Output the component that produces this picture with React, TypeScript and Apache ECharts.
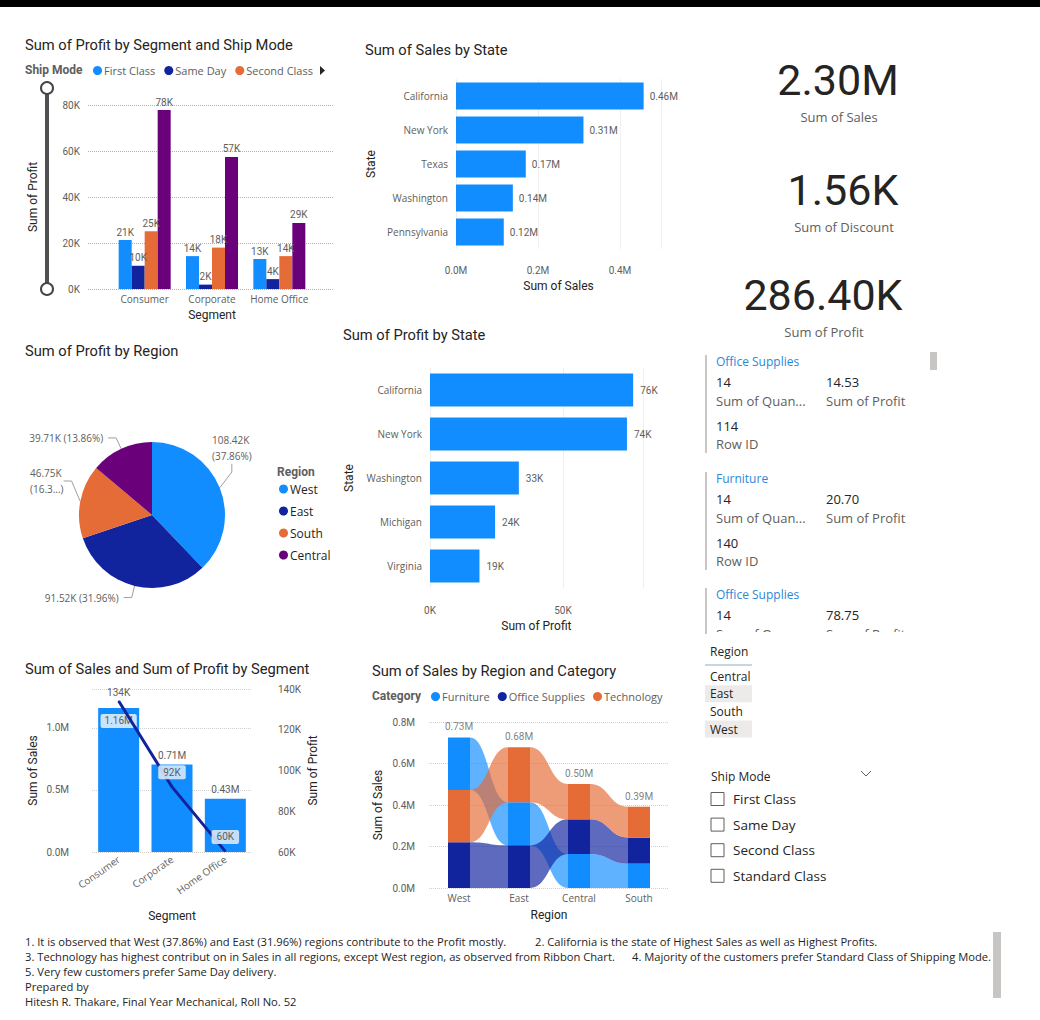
import React, { useEffect, useRef } from 'react';
import * as echarts from 'echarts';

// ---------- data ----------
const SEGMENTS = ['Consumer', 'Corporate', 'Home Office'];
const SHIP_MODES = ['First Class', 'Same Day', 'Second Class', 'Standard Class'];
const PROFIT_FIRST_CLASS = [21300, 14300, 13000];
const PROFIT_SAME_DAY = [10100, 1900, 4300];
const PROFIT_SECOND_CLASS = [25100, 18000, 14300];
const PROFIT_STANDARD_CLASS = [77800, 57400, 28700];

const SALES_STATES = ['California', 'New York', 'Texas', 'Washington', 'Pennsylvania'];
const SALES_BY_STATE = [457688, 310876, 170188, 138641, 116512];

const PROFIT_STATES = ['California', 'New York', 'Washington', 'Michigan', 'Virginia'];
const PROFIT_BY_STATE = [76381, 74039, 33403, 24463, 18598];

const REGIONS = ['West', 'East', 'South', 'Central'];
const PROFIT_BY_REGION = [108418, 91523, 46749, 39706];

const SEGMENT_SALES = [1161401, 706146, 429653];
const SEGMENT_PROFIT = [134119, 91979, 60299];

const RIBBON_REGIONS = ['West', 'East', 'Central', 'South'];
const CATEGORIES = ['Furniture', 'Office Supplies', 'Technology'];
const SALES_FURNITURE = [252613, 208291, 163797, 117299];
const SALES_OFFICE = [220853, 205516, 167026, 125651];
const SALES_TECH = [251992, 264974, 170416, 148772];

const KPI_VALUES = ['2.30M', '1.56K', '286.40K'];
const KPI_LABELS = ['Sum of Sales', 'Sum of Discount', 'Sum of Profit'];

const CARD_CATEGORY = ['Office Supplies', 'Furniture', 'Office Supplies'];
const CARD_QTY = ['14', '14', '14'];
const CARD_PROFIT = ['14.53', '20.70', '78.75'];
const CARD_ROWID = ['114', '140'];

const SLICER_REGIONS = ['Central', 'East', 'South', 'West'];
const SLICER_SELECTED = [false, true, false, true];

const NOTES_LEFT = [
  '1. It is observed that West (37.86%) and East (31.96%) regions contribute to the Profit mostly.',
  '3. Technology has highest contribut on in Sales in all regions, except West region, as observed from Ribbon Chart.',
  '5. Very few customers prefer Same Day delivery.',
  'Prepared by',
  'Hitesh R. Thakare, Final Year Mechanical, Roll No. 52',
];
const NOTES_RIGHT = [
  '2. California is the state of Highest Sales as well as Highest Profits.',
  '4. Majority of the customers prefer Standard Class of Shipping Mode.',
];

// ---------- styles ----------
const TXT = '#252423';
const GRAY = '#605E5C';
const GRID_LINE = '#B3B0AD';
const DIN = 'Roboto, "DejaVu Sans", sans-serif';
const SEGOE = '"Open Sans", Lato, sans-serif';
const C_BLUE = '#118DFF';
const C_NAVY = '#12239E';
const C_ORANGE = '#E66C37';
const C_PURPLE = '#6B007B';
const TITLE_SIZE = 14.7;

const kFmt = (v: number) => Math.round(v / 1000) + 'K';
const m1 = (v: number) => (v / 1e6).toFixed(1) + 'M';
const m2 = (v: number) => (v / 1e6).toFixed(2) + 'M';

type TOpts = { size?: number; fill?: string; weight?: string; family?: string; align?: string; z?: number };
const txt = (x: number, y: number, text: string, o: TOpts = {}) => ({
  type: 'text',
  x,
  y,
  z: o.z ?? 10,
  silent: true,
  style: {
    text,
    fill: o.fill ?? TXT,
    font: `${o.weight ?? 'normal'} ${o.size ?? 12}px ${o.family ?? SEGOE}`,
    textAlign: o.align ?? 'left',
    textVerticalAlign: 'middle',
    align: o.align ?? 'left',
    verticalAlign: 'middle',
  },
});
const rect = (x: number, y: number, w: number, h: number, style: any, z = 5) => ({
  type: 'rect', z, silent: true, shape: { x, y, width: w, height: h }, style,
});

const axisName = { color: TXT, fontSize: 12, fontFamily: DIN };
const noLine = { show: false };

function buildRibbonData() {
  const series = [SALES_FURNITURE, SALES_OFFICE, SALES_TECH];
  const stacks = RIBBON_REGIONS.map((_, i) => {
    const items = series.map((vals, k) => ({ k, v: vals[i] })).sort((a, b) => a.v - b.v);
    const res: number[][] = [];
    let acc = 0;
    items.forEach(({ k, v }) => {
      res[k] = [acc, acc + v];
      acc += v;
    });
    return res;
  });
  return series.map((_, k) =>
    RIBBON_REGIONS.map((__, i) => {
      const s = stacks[i][k];
      const n = stacks[i + 1] ? stacks[i + 1][k] : s;
      return [i, s[0], s[1], n[0], n[1]];
    })
  );
}

function ribbonSeries(name: string, color: string, data: number[][]) {
  return {
    type: 'custom',
    name,
    xAxisIndex: 5,
    yAxisIndex: 6,
    itemStyle: { color },
    encode: { x: 0, y: [1, 2] },
    data,
    renderItem: (params: any, api: any) => {
      const i = api.value(0);
      const b = api.value(1);
      const t = api.value(2);
      const pTop = api.coord([i, t]);
      const pBot = api.coord([i, b]);
      const half = 11;
      const children: any[] = [];
      if (i < RIBBON_REGIONS.length - 1) {
        const qTop = api.coord([i + 1, api.value(4)]);
        const qBot = api.coord([i + 1, api.value(3)]);
        const x0 = pTop[0] + half;
        const x1 = qTop[0] - half;
        const xm = (x0 + x1) / 2;
        children.push({
          type: 'path',
          shape: {
            pathData: `M${x0},${pTop[1]} C${xm},${pTop[1]} ${xm},${qTop[1]} ${x1},${qTop[1]} L${x1},${qBot[1]} C${xm},${qBot[1]} ${xm},${pBot[1]} ${x0},${pBot[1]} Z`,
          },
          style: { fill: color, opacity: 0.68 },
        });
      }
      children.push({
        type: 'rect',
        shape: { x: pTop[0] - half, y: pTop[1], width: half * 2, height: pBot[1] - pTop[1] },
        style: { fill: color },
      });
      return { type: 'group', children };
    },
  };
}

function buildGraphics() {
  const g: any[] = [];
  g.push(rect(0, 0, 1040, 7, { fill: '#000' }));
  // titles
  g.push(txt(25, 45, 'Sum of Profit by Segment and Ship Mode', { size: TITLE_SIZE, family: DIN }));
  g.push(txt(365, 50, 'Sum of Sales by State', { size: TITLE_SIZE, family: DIN }));
  g.push(txt(25, 351, 'Sum of Profit by Region', { size: TITLE_SIZE, family: DIN }));
  g.push(txt(343, 335, 'Sum of Profit by State', { size: TITLE_SIZE, family: DIN }));
  g.push(txt(25, 669, 'Sum of Sales and Sum of Profit by Segment', { size: TITLE_SIZE, family: DIN }));
  g.push(txt(372, 671, 'Sum of Sales by Region and Category', { size: TITLE_SIZE, family: DIN }));
  // legend titles
  g.push(txt(25, 70, 'Ship Mode', { size: 12, weight: 'bold', family: DIN, fill: GRAY }));
  g.push(txt(372, 696, 'Category', { size: 12, weight: 'bold', family: DIN, fill: GRAY }));
  g.push(txt(277, 472, 'Region', { size: 12, weight: 'bold', family: DIN, fill: GRAY }));
  g.push({ type: 'polygon', silent: true, shape: { points: [[320, 66], [325, 70.5], [320, 75]] }, style: { fill: TXT } });
  // slider
  g.push({ type: 'line', silent: true, shape: { x1: 47, y1: 94, x2: 47, y2: 283 }, style: { stroke: '#505050', lineWidth: 4 } });
  g.push({ type: 'circle', silent: true, z: 6, shape: { cx: 47, cy: 88, r: 6 }, style: { fill: '#fff', stroke: '#444', lineWidth: 2 } });
  g.push({ type: 'circle', silent: true, z: 6, shape: { cx: 47, cy: 289, r: 6 }, style: { fill: '#fff', stroke: '#444', lineWidth: 2 } });
  // KPI cards
  const kpiY = [80, 190, 295];
  const kpiX = [838, 843, 823];
  KPI_VALUES.forEach((v, i) => {
    g.push(txt(kpiX[i], kpiY[i], v, { size: 43, family: DIN, align: 'center' }));
    g.push(txt(kpiX[i] + 1, kpiY[i] + 37, KPI_LABELS[i], { size: 13, fill: GRAY, align: 'center' }));
  });
  // multi-row card
  const base = [361, 478, 594];
  const barH = [98, 98, 46];
  base.forEach((y, i) => {
    g.push(rect(705, y - 6, 2, barH[i], { fill: '#C8C6C4' }));
    g.push(txt(716, y, CARD_CATEGORY[i], { size: 12, fill: '#2B88D8' }));
    g.push(txt(716, y + 21, CARD_QTY[i], { size: 13 }));
    g.push(txt(826, y + 21, CARD_PROFIT[i], { size: 13 }));
    g.push(txt(716, y + 40, 'Sum of Quan...', { size: 13, fill: GRAY }));
    g.push(txt(826, y + 40, 'Sum of Profit', { size: 13, fill: GRAY }));
    if (i < CARD_ROWID.length) {
      g.push(txt(716, y + 65, CARD_ROWID[i], { size: 13 }));
      g.push(txt(716, y + 83, 'Row ID', { size: 13, fill: GRAY }));
    }
  });
  g.push(rect(708, 632, 240, 10, { fill: '#fff' }, 20));
  g.push(rect(930, 352, 7, 18, { fill: '#C8C6C4' }));
  // region slicer
  g.push(txt(710, 651, 'Region', { size: 12, z: 25 }));
  g.push({ type: 'line', silent: true, shape: { x1: 705, y1: 665, x2: 752, y2: 665 }, style: { stroke: '#B4C8D8', lineWidth: 1.5 } });
  SLICER_REGIONS.forEach((r, i) => {
    const y = 676 + i * 17.7;
    if (SLICER_SELECTED[i]) g.push(rect(705, y - 8.5, 47, 17, { fill: '#EDEBE9' }, 4));
    g.push(txt(710, y, r, { size: 12 }));
  });
  // ship mode slicer
  g.push(txt(711, 776, 'Ship Mode', { size: 12 }));
  g.push({ type: 'polyline', silent: true, shape: { points: [[861, 771], [866, 776], [871, 771]] }, style: { stroke: GRAY, lineWidth: 1, fill: 'none' } });
  SHIP_MODES.forEach((m, i) => {
    const y = 799 + i * 25.6;
    g.push(rect(711, y - 6.5, 13, 13, { fill: '#fff', stroke: GRAY, lineWidth: 1 }));
    g.push(txt(733, y, m, { size: 13.5 }));
  });
  // notes
  NOTES_LEFT.forEach((t, i) => g.push(txt(25, 941 + i * 15, t, { size: 11.2 })));
  g.push(txt(535, 941, NOTES_RIGHT[0], { size: 11.2 }));
  g.push(txt(632, 956, NOTES_RIGHT[1], { size: 11.2 }));
  g.push(rect(993, 932, 8, 66, { fill: '#C8C6C4' }));
  return g;
}

function buildOption() {
  const ribbonData = buildRibbonData();
  const ribbonTotals = RIBBON_REGIONS.map((_, i) => SALES_FURNITURE[i] + SALES_OFFICE[i] + SALES_TECH[i]);
  const barLabel = { show: true, position: 'top', distance: 3, fontSize: 10, color: GRAY, fontFamily: DIN, formatter: (p: any) => kFmt(p.value) };
  const shipSeries = [PROFIT_FIRST_CLASS, PROFIT_SAME_DAY, PROFIT_SECOND_CLASS, PROFIT_STANDARD_CLASS].map((vals, k) => ({
    type: 'bar',
    name: SHIP_MODES[k],
    xAxisIndex: 1,
    yAxisIndex: 1,
    barWidth: 13,
    barGap: '0%',
    itemStyle: { color: [C_BLUE, C_NAVY, C_ORANGE, C_PURPLE][k] },
    label: barLabel,
    data: vals,
  }));
  const sales4Max = 1314500;
  const legendText = (size: number, color: string) => ({ fontSize: size, color, fontFamily: SEGOE, padding: [0, 0, 0, -3] });

  return {
    animation: false,
    backgroundColor: '#ffffff',
    textStyle: { fontFamily: DIN },
    tooltip: { show: false },
    grid: [
      { left: 88, top: 105, width: 245, height: 184 },
      { left: 111, top: 105, width: 202, height: 184 },
      { left: 456, top: 79, width: 205, height: 170 },
      { left: 430, top: 368, width: 212.8, height: 220 },
      { left: 92, top: 689, width: 160, height: 163 },
      { left: 429, top: 722, width: 240, height: 166 },
    ],
    xAxis: [
      { gridIndex: 0, type: 'category', data: [''], show: false },
      {
        gridIndex: 1, type: 'category', data: SEGMENTS, axisLine: noLine, axisTick: noLine,
        axisLabel: { color: GRAY, fontSize: 10, margin: 5, fontFamily: SEGOE, interval: 0 },
        name: 'Segment', nameLocation: 'middle', nameGap: 20, nameTextStyle: axisName,
      },
      {
        gridIndex: 2, type: 'value', min: 0, max: 500000, interval: 200000,
        axisLine: noLine, axisTick: noLine,
        axisLabel: { formatter: m1, color: GRAY, fontSize: 10, margin: 16, showMaxLabel: false },
        splitLine: { lineStyle: { color: '#F0EFEE' } },
        name: 'Sum of Sales', nameLocation: 'middle', nameGap: 31, nameTextStyle: axisName,
      },
      {
        gridIndex: 3, type: 'value', min: 0, max: 80000, interval: 50000,
        axisLine: noLine, axisTick: noLine,
        axisLabel: { formatter: kFmt, color: GRAY, fontSize: 10, margin: 17, showMaxLabel: false },
        splitLine: { lineStyle: { color: '#F0EFEE' } },
        name: 'Sum of Profit', nameLocation: 'middle', nameGap: 32, nameTextStyle: axisName,
      },
      {
        gridIndex: 4, type: 'category', data: SEGMENTS, axisLine: noLine, axisTick: noLine,
        axisLabel: { color: GRAY, fontSize: 10, margin: 6, rotate: 35, fontFamily: SEGOE, interval: 0 },
        name: 'Segment', nameLocation: 'middle', nameGap: 58, nameTextStyle: axisName,
      },
      {
        gridIndex: 5, type: 'category', data: RIBBON_REGIONS, axisLine: noLine, axisTick: noLine,
        axisLabel: { color: GRAY, fontSize: 10, margin: 5, fontFamily: SEGOE, interval: 0 },
        name: 'Region', nameLocation: 'middle', nameGap: 21, nameTextStyle: axisName,
      },
    ],
    yAxis: [
      {
        gridIndex: 0, type: 'value', min: 0, max: 80000, interval: 20000,
        axisLine: noLine, axisTick: noLine,
        axisLabel: { formatter: kFmt, color: GRAY, fontSize: 10, margin: 8 },
        splitLine: { lineStyle: { type: 'dotted', color: GRID_LINE } },
        name: 'Sum of Profit', nameLocation: 'middle', nameGap: 49, nameTextStyle: axisName,
      },
      { gridIndex: 1, type: 'value', min: 0, max: 80000, show: false },
      {
        gridIndex: 2, type: 'category', data: SALES_STATES, inverse: true,
        axisLine: noLine, axisTick: noLine,
        axisLabel: { color: GRAY, fontSize: 10, margin: 8, fontFamily: SEGOE },
        name: 'State', nameLocation: 'middle', nameGap: 79, nameTextStyle: axisName,
      },
      {
        gridIndex: 3, type: 'category', data: PROFIT_STATES, inverse: true,
        axisLine: noLine, axisTick: noLine,
        axisLabel: { color: GRAY, fontSize: 10, margin: 8, fontFamily: SEGOE },
        name: 'State', nameLocation: 'middle', nameGap: 75, nameTextStyle: axisName,
      },
      {
        gridIndex: 4, type: 'value', min: 0, max: sales4Max, interval: 500000,
        axisLine: noLine, axisTick: noLine,
        axisLabel: { formatter: m1, color: GRAY, fontSize: 10, margin: 23, showMaxLabel: false },
        splitLine: { lineStyle: { type: 'dotted', color: '#D2D0CE' } },
        name: 'Sum of Sales', nameLocation: 'middle', nameGap: 53, nameTextStyle: axisName,
      },
      {
        gridIndex: 4, type: 'value', position: 'right', min: 60000, max: 140000, interval: 20000,
        axisLine: noLine, axisTick: noLine,
        axisLabel: { formatter: kFmt, color: GRAY, fontSize: 10, margin: 26 },
        splitLine: { show: false },
        name: 'Sum of Profit', nameLocation: 'middle', nameGap: 55, nameTextStyle: axisName,
      },
      {
        gridIndex: 5, type: 'value', min: 0, max: 800000, interval: 200000,
        axisLine: noLine, axisTick: noLine,
        axisLabel: { formatter: m1, color: GRAY, fontSize: 10, margin: 14 },
        splitLine: { lineStyle: { type: 'dotted', color: '#D2D0CE' } },
        name: 'Sum of Sales', nameLocation: 'middle', nameGap: 45, nameTextStyle: axisName,
      },
    ],
    legend: [
      {
        left: 93, top: 65, padding: 0, itemWidth: 9, itemHeight: 9, itemGap: 9, icon: 'circle', selectedMode: false,
        data: SHIP_MODES.slice(0, 3), textStyle: legendText(11, GRAY),
      },
      {
        left: 279, top: 483, padding: 0, orient: 'vertical', itemWidth: 9, itemHeight: 9, itemGap: 10, icon: 'circle', selectedMode: false,
        data: REGIONS, textStyle: legendText(12, TXT),
      },
      {
        left: 431, top: 691, padding: 0, itemWidth: 9, itemHeight: 9, itemGap: 8, icon: 'circle', selectedMode: false,
        data: CATEGORIES, textStyle: legendText(11, GRAY),
      },
    ],
    series: [
      ...shipSeries,
      {
        type: 'bar', name: 'Sales by State', xAxisIndex: 2, yAxisIndex: 2, barWidth: 27,
        itemStyle: { color: C_BLUE },
        label: { show: true, position: 'right', distance: 6, fontSize: 10, color: GRAY, formatter: (p: any) => m2(p.value) },
        data: SALES_BY_STATE,
      },
      {
        type: 'bar', name: 'Profit by State', xAxisIndex: 3, yAxisIndex: 3, barWidth: 33,
        itemStyle: { color: C_BLUE },
        label: { show: true, position: 'right', distance: 7, fontSize: 10, color: GRAY, formatter: (p: any) => kFmt(p.value) },
        data: PROFIT_BY_STATE,
      },
      {
        type: 'pie', name: 'Profit by Region', center: [152, 515], radius: 73, startAngle: 90, clockwise: true,
        color: [C_BLUE, C_NAVY, C_ORANGE, C_PURPLE],
        label: {
          show: true, fontSize: 10, color: GRAY, fontFamily: SEGOE, lineHeight: 16,
          formatter: (p: any) => {
            const v = (p.value / 1000).toFixed(2) + 'K';
            if (p.dataIndex === 0) return `${v}\n(${p.percent.toFixed(2)}%)`;
            if (p.dataIndex === 2) return `${v}\n(${p.percent.toFixed(2).slice(0, 4)}...)`;
            return `${v} (${p.percent.toFixed(2)}%)`;
          },
        },
        labelLine: { length: 12, length2: 8, lineStyle: { color: '#A19F9D', width: 1 } },
        labelLayout: (p: any) => {
          if (p.dataIndex === 0) return { x: 212, y: 448, align: 'left', verticalAlign: 'middle' };
          if (p.dataIndex === 2) return { x: 30, y: 481, align: 'left', verticalAlign: 'middle' };
          return {};
        },
        data: REGIONS.map((r, i) => ({ name: r, value: PROFIT_BY_REGION[i] })),
      },
      {
        type: 'bar', name: 'Sum of Sales', xAxisIndex: 4, yAxisIndex: 4, barWidth: 41,
        itemStyle: { color: C_BLUE },
        label: { show: true, position: 'top', distance: 4, fontSize: 10, color: GRAY, formatter: (p: any) => m2(p.value) },
        data: SEGMENT_SALES.map((v) =>
          v > sales4Max * 0.8
            ? { value: v, label: { position: 'insideTop', distance: 6, backgroundColor: 'rgba(235,243,252,0.85)', padding: [2, 4], borderRadius: 2 } }
            : v
        ),
      },
      {
        type: 'line', name: 'Sum of Profit', xAxisIndex: 4, yAxisIndex: 5, showSymbol: true, symbol: 'circle', symbolSize: 1,
        lineStyle: { color: C_NAVY, width: 3 }, itemStyle: { color: C_NAVY }, z: 5,
        label: { show: true, position: 'top', distance: 3, fontSize: 10, color: GRAY, formatter: (p: any) => kFmt(p.value) },
        data: SEGMENT_PROFIT.map((v, i) =>
          i === 0
            ? v
            : { value: v, label: { distance: 7, backgroundColor: 'rgba(215,232,250,0.9)', padding: [2, 5], borderRadius: 2 } }
        ),
      },
      ribbonSeries(CATEGORIES[0], C_BLUE, ribbonData[0]),
      ribbonSeries(CATEGORIES[1], C_NAVY, ribbonData[1]),
      ribbonSeries(CATEGORIES[2], C_ORANGE, ribbonData[2]),
      {
        type: 'scatter', name: 'Total', xAxisIndex: 5, yAxisIndex: 6, symbolSize: 1,
        itemStyle: { color: 'rgba(0,0,0,0)' },
        label: { show: true, position: 'top', distance: 5, fontSize: 10, color: GRAY, formatter: (p: any) => m2(p.value) },
        data: ribbonTotals,
      },
    ],
    graphic: { elements: buildGraphics() },
  };
}

export default function App() {
  const ref = useRef<HTMLDivElement>(null);
  useEffect(() => {
    if (!ref.current) return;
    const chart = echarts.init(ref.current, undefined, { renderer: 'svg' });
    chart.setOption(buildOption() as any);
    return () => chart.dispose();
  }, []);
  return (
    <div
      ref={ref}
      style={{ position: 'absolute', left: 0, top: 0, width: 1040, height: 1020, background: '#fff' }}
    />
  );
}
